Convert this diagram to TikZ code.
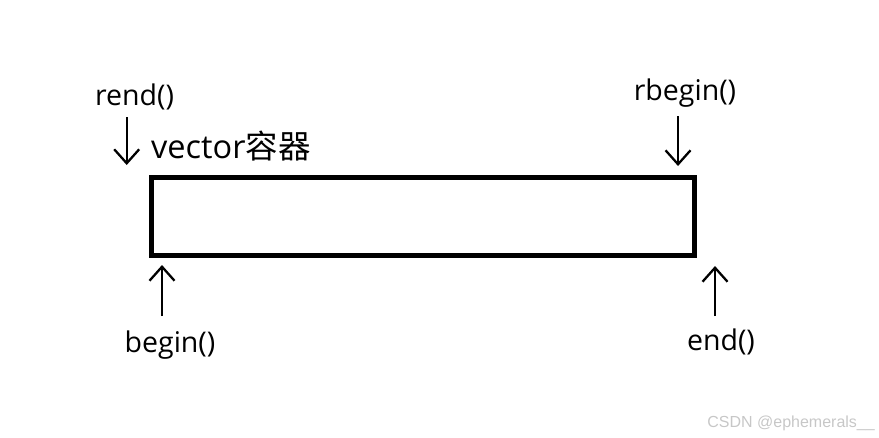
\documentclass[tikz,border=0pt]{standalone}
\usepackage{fontspec}
\setmainfont{Open Sans}
\newfontfamily\cjk{Noto Sans CJK SC}
\newfontfamily\wmfont{Liberation Sans}
\usetikzlibrary{arrows.meta}

\tikzset{
  ptr/.style={-{Straight Barb[length=14pt,width=25pt]}, line width=2.3pt},
  itlabel/.style={inner sep=0pt, anchor=base, font=\fontsize{28.5}{31}\selectfont},
}

\begin{document}
\begin{tikzpicture}[scale=0.35146]
\useasboundingbox (0,0) rectangle (87.9,-43.8);
% container
\draw [black, line width=5pt] (15.1,-17.7) rectangle (69.45,-25.55);
\node [inner sep=0pt, anchor=base west, font=\fontsize{32.5}{35}\selectfont] (title) at (15.1,-15.85) {vector{\cjk 容器}};
% labels
\node [itlabel] (rend) at (13.45,-10.5) {rend()};
\node [itlabel] (rbegin) at (68.5,-10.0) {rbegin()};
\node [itlabel] (begin) at (17.0,-35.2) {begin()};
\node [itlabel] (end) at (72.1,-35.0) {end()};
% arrow ends
\coordinate (rendtail) at (12.67,-11.7);
\coordinate (rendtip) at (12.67,-16.5);
\coordinate (rbegintail) at (67.8,-11.6);
\coordinate (rbegintip) at (67.8,-16.6);
\coordinate (begintail) at (16.2,-31.6);
\coordinate (begintip) at (16.2,-26.5);
\coordinate (endtail) at (71.5,-31.6);
\coordinate (endtip) at (71.5,-26.6);
\draw [ptr] (rendtail) -- (rendtip);
\draw [ptr] (rbegintail) -- (rbegintip);
\draw [ptr] (begintail) -- (begintip);
\draw [ptr] (endtail) -- (endtip);
% watermark
\node [inner sep=0pt, anchor=base east, text=black!22, font=\wmfont\fontsize{16}{18}\selectfont] (mark) at (87.5,-42.7) {CSDN @ephemerals\_\_};
\end{tikzpicture}
\end{document}
